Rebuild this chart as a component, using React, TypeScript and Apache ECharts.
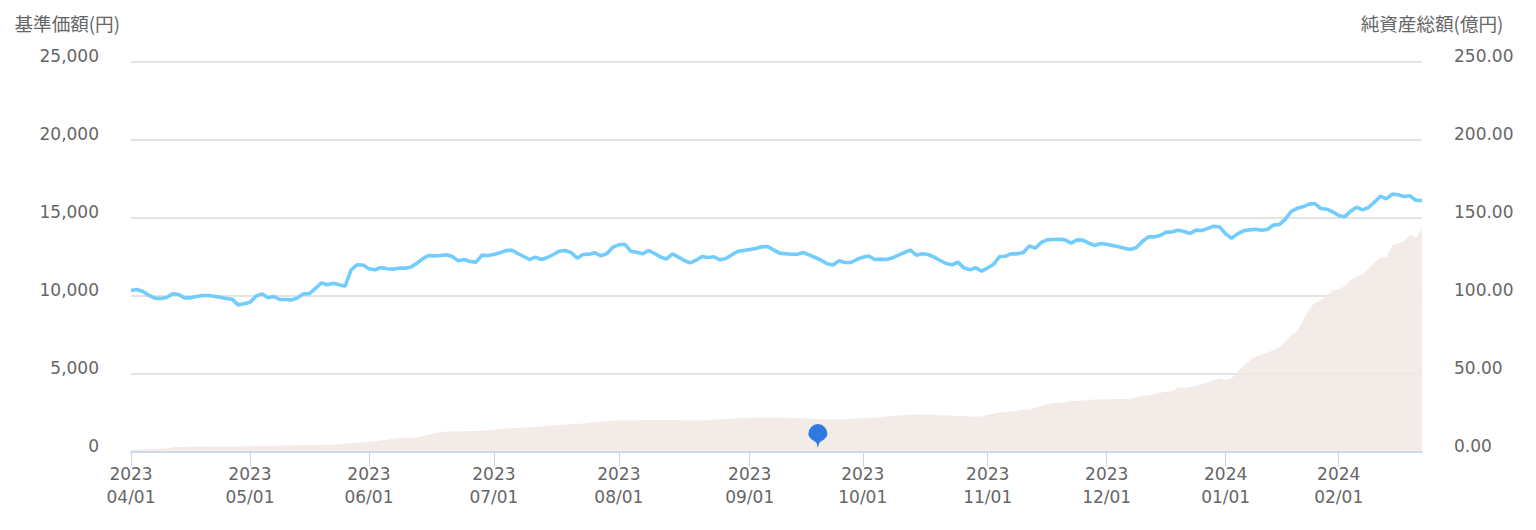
import React, { useEffect, useRef } from "react";
import * as echarts from "echarts";

const tradingDays: [string, string, number[]][] = [
  ["2023", "04", [3, 4, 5, 6, 7, 10, 11, 12, 13, 14, 17, 18, 19, 20, 21, 24, 25, 26, 27, 28]],
  ["2023", "05", [1, 2, 8, 9, 10, 11, 12, 15, 16, 17, 18, 19, 22, 23, 24, 25, 26, 29, 30, 31]],
  ["2023", "06", [1, 2, 5, 6, 7, 8, 9, 12, 13, 14, 15, 16, 19, 20, 21, 22, 23, 26, 27, 28, 29]],
  ["2023", "07", [3, 4, 5, 6, 7, 10, 11, 12, 13, 14, 17, 18, 19, 20, 21, 24, 25, 26, 27, 28, 31]],
  ["2023", "08", [1, 2, 3, 4, 7, 8, 9, 10, 14, 15, 16, 17, 18, 21, 22, 23, 24, 25, 28, 29, 30, 31]],
  ["2023", "09", [1, 4, 5, 6, 7, 8, 11, 12, 13, 14, 15, 19, 20, 21, 22, 25, 26, 27, 28]],
  ["2023", "10", [2, 3, 4, 5, 6, 10, 11, 12, 13, 16, 17, 18, 19, 20, 23, 24, 25, 26, 27, 30, 31]],
  ["2023", "11", [1, 2, 6, 7, 8, 9, 10, 13, 14, 15, 16, 17, 20, 21, 22, 24, 27, 28, 29, 30]],
  ["2023", "12", [1, 4, 5, 6, 7, 8, 11, 12, 13, 14, 15, 18, 19, 20, 21, 22, 25, 26, 27, 28]],
  ["2024", "01", [4, 5, 9, 10, 11, 12, 15, 16, 17, 18, 19, 22, 23, 24, 25, 26, 29, 30, 31]],
  ["2024", "02", [1, 2, 5, 6, 7, 8, 9, 13, 14, 15, 16, 19, 20, 21, 22]],
];

const navValues = [
  10320, 10385, 10256, 10020, 9830, 9810, 9870, 10107, 10064, 9850,
  9850, 9936, 10000, 10000, 9957, 9893, 9808, 9765, 9400, 9466,
  9573, 9957, 10107, 9850, 9936, 9744, 9744, 9722, 9850, 10107,
  10128, 10450, 10812, 10684, 10790, 10684, 10600, 11650, 11970, 11950,
  11710, 11645, 11795, 11710, 11690, 11752, 11752, 11816, 12051, 12350,
  12564, 12543, 12564, 12607, 12500, 12222, 12307, 12180, 12137, 12586,
  12564, 12628, 12735, 12874, 12906, 12692, 12500, 12307, 12457, 12307,
  12436, 12628, 12842, 12885, 12750, 12393, 12628, 12650, 12735, 12543,
  12692, 13099, 13248, 13290, 12842, 12778, 12671, 12885, 12692, 12479,
  12329, 12671, 12457, 12243, 12094, 12265, 12500, 12436, 12479, 12286,
  12372, 12607, 12842, 12885, 12949, 13013, 13120, 13141, 12928, 12714,
  12680, 12640, 12640, 12757, 12607, 12436, 12265, 12030, 11950, 12222,
  12115, 12115, 12307, 12457, 12532, 12307, 12329, 12307, 12415, 12586,
  12757, 12906, 12586, 12671, 12628, 12457, 12243, 12051, 11966, 12137,
  11774, 11645, 11774, 11560, 11774, 12008, 12500, 12520, 12680, 12671,
  12756, 13184, 13034, 13397, 13568, 13590, 13600, 13568, 13355, 13568,
  13547, 13355, 13205, 13333, 13290, 13205, 13120, 13034, 12948, 13077,
  13461, 13760, 13760, 13846, 14060, 14081, 14188, 14102, 13975, 14188,
  14170, 14305, 14444, 14390, 13950, 13670, 13953, 14145, 14209, 14252,
  14188, 14231, 14509, 14551, 14872, 15385, 15588, 15684, 15855, 15897,
  15577, 15534, 15363, 15128, 15043, 15406, 15662, 15491, 15641, 15983,
  16368, 16197, 16496, 16453, 16346, 16389, 16090, 16090,
];

const aumValues = [
  0.9, 1.1, 1.3, 1.5, 1.7, 1.8, 1.9, 2.8, 2.9, 2.9,
  3.0, 3.0, 3.1, 3.1, 3.2, 3.2, 3.2, 3.1, 3.2, 3.3,
  3.4, 3.5, 3.6, 3.6, 3.7, 3.8, 3.8, 3.9, 4.0, 4.0,
  4.1, 4.2, 4.3, 4.4, 4.5, 4.7, 4.9, 5.3, 5.7, 6.0,
  6.2, 6.5, 7.0, 7.5, 8.1, 8.6, 8.8, 8.8, 8.9, 9.8,
  10.7, 11.6, 12.3, 12.8, 12.8, 12.9, 13.0, 13.1, 13.2, 13.3,
  13.5, 14.0, 14.5, 14.7, 14.9, 15.1, 15.3, 15.5, 15.8, 16.0,
  16.3, 16.6, 17.0, 17.2, 17.4, 17.7, 18.0, 18.4, 18.7, 19.0,
  19.4, 19.8, 20.0, 20.0, 19.8, 19.9, 20.2, 20.3, 20.2, 20.2,
  20.0, 20.2, 20.0, 20.1, 20.0, 19.9, 20.1, 20.4, 20.3, 20.6,
  20.8, 20.9, 21.1, 21.4, 21.6, 21.7, 21.7, 21.6, 21.6, 21.6,
  21.6, 21.5, 21.4, 21.3, 21.1, 21.0, 20.8, 20.7, 20.6, 20.5,
  20.5, 20.9, 21.2, 21.3, 21.6, 21.7, 22.0, 22.4, 22.8, 23.0,
  23.2, 23.5, 23.6, 23.7, 23.7, 23.5, 23.3, 23.1, 23.0, 22.8,
  22.7, 22.5, 22.2, 22.6, 23.6, 24.4, 25.2, 25.5, 25.8, 26.1,
  26.7, 26.7, 28.0, 29.2, 30.3, 31.0, 31.2, 31.6, 32.2, 32.4,
  32.7, 33.0, 33.3, 33.4, 33.5, 33.6, 33.7, 33.7, 33.8, 34.8,
  35.7, 36.1, 36.8, 37.6, 38.3, 38.6, 41.2, 40.7, 41.2, 42.2,
  43.1, 44.4, 45.6, 46.8, 46.0, 47.0, 51.0, 54.6, 58.2, 60.6,
  62.0, 63.4, 65.0, 67.0, 70.0, 74.6, 77.0, 84.0, 91.0, 95.5,
  97.0, 100.0, 103.2, 104.2, 106.0, 110.0, 112.2, 113.4, 117.0, 120.7,
  124.2, 124.5, 132.0, 133.4, 134.8, 139.5, 137.0, 142.7,
];

const markerDate = "2023/09/19";
const markerValue = 2.2;
const leftAxisName = "基準価額(円)";
const rightAxisName = "純資産総額(億円)";

const pad = (n: number) => String(n).padStart(2, "0");
const categories = tradingDays.flatMap(([y, m, days]) => days.map((d) => `${y}/${m}/${pad(d)}`));
const monthStarts = new Set(tradingDays.map(([y, m, days]) => `${y}/${m}/${pad(days[0])}`));
const isMonthStart = (_: number, value: string) => monthStarts.has(value);

const TEXT = "#666666";
const FONT = "'DejaVu Sans', sans-serif";
const CJK = "'Noto Sans CJK JP', sans-serif";
const PIN =
  "path://M10 0A10 10 0 0 1 20 10C20 15 14 17 11.5 19.5L10 25L8.5 19.5C6 17 0 15 0 10A10 10 0 0 1 10 0Z";

export default function App() {
  const ref = useRef<HTMLDivElement>(null);
  useEffect(() => {
    const chart = echarts.init(ref.current!, undefined, { renderer: "svg" });
    chart.setOption({
      animation: false,
      backgroundColor: "#ffffff",
      grid: { left: 131, right: 114, top: 61.5, bottom: 78.5 },
      xAxis: {
        type: "category",
        boundaryGap: false,
        data: categories,
        axisLine: { lineStyle: { color: "#C9D8E8", width: 2 } },
        axisTick: { show: true, interval: isMonthStart, length: 15, lineStyle: { color: "#C5D6E8", width: 1 } },
        axisLabel: {
          interval: isMonthStart,
          margin: 11,
          color: TEXT,
          fontFamily: FONT,
          fontSize: 17,
          lineHeight: 23,
          formatter: (v: string) => {
            const [y, m] = v.split("/");
            return `${y}\n${m}/01`;
          },
        },
        splitLine: { show: false },
      },
      yAxis: [
        {
          type: "value",
          min: 0,
          max: 25000,
          interval: 5000,
          name: leftAxisName,
          nameLocation: "end",
          nameGap: 30,
          nameTextStyle: { color: TEXT, fontFamily: CJK, fontSize: 18.6, align: "right", padding: [0, 11, 0, 0] },
          axisLine: { show: false },
          axisTick: { show: false },
          splitLine: { show: true, lineStyle: { color: "#DADADA", width: 1.5 } },
          axisLabel: {
            margin: 32,
            color: TEXT,
            fontFamily: FONT,
            fontSize: 17,
            verticalAlign: "bottom",
            lineHeight: 12,
            formatter: (v: number) => v.toLocaleString("en-US"),
          },
        },
        {
          type: "value",
          min: 0,
          max: 250,
          interval: 50,
          name: rightAxisName,
          nameLocation: "end",
          nameGap: 30,
          nameTextStyle: { color: TEXT, fontFamily: CJK, fontSize: 18.6, align: "center", padding: [0, 0, 0, 20] },
          axisLine: { show: false },
          axisTick: { show: false },
          splitLine: { show: false },
          axisLabel: {
            margin: 32,
            color: TEXT,
            fontFamily: FONT,
            fontSize: 17,
            verticalAlign: "bottom",
            lineHeight: 12,
            formatter: (v: number) => v.toFixed(2),
          },
        },
      ],
      series: [
        {
          name: "純資産総額",
          type: "line",
          yAxisIndex: 1,
          data: aumValues,
          showSymbol: false,
          lineStyle: { width: 0 },
          areaStyle: { color: "#F1E7E4", opacity: 0.85 },
          z: 2,
          markPoint: {
            silent: true,
            symbol: PIN,
            symbolSize: [19, 24],
            symbolKeepAspect: false,
            symbolOffset: [2.7, -12],
            itemStyle: { color: "#2F7AE0" },
            label: { show: false },
            data: [{ coord: [markerDate, markerValue] }],
          },
        },
        {
          name: "基準価額",
          type: "line",
          yAxisIndex: 0,
          data: navValues,
          showSymbol: false,
          smooth: false,
          lineStyle: { color: "#72CDFD", width: 3.6 },
          z: 3,
        },
      ],
    });
    return () => chart.dispose();
  }, []);
  return <div ref={ref} style={{ position: "fixed", left: 0, top: 0, width: 1536, height: 530 }} />;
}
